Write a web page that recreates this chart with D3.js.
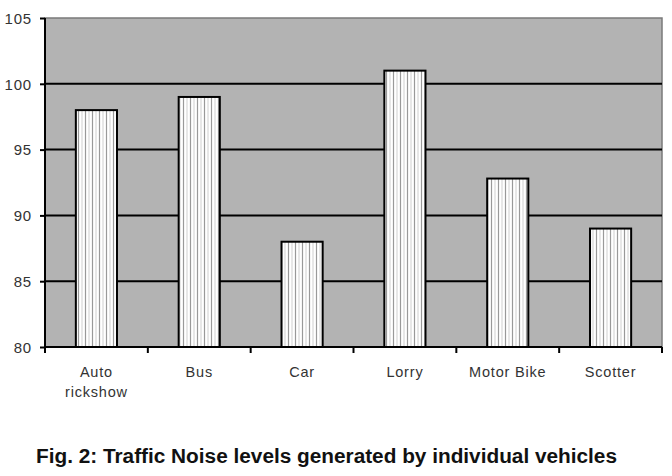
<!DOCTYPE html>
<html><head><meta charset="utf-8">
<script src="https://cdn.jsdelivr.net/npm/d3@7"></script>
<style>body{margin:0;background:#fff}svg{display:block}</style>
</head><body>
<script>
const categories = ["Auto\nrickshow", "Bus", "Car", "Lorry", "Motor Bike", "Scotter"];
const noiseLevels = [98, 99, 88, 101, 92.8, 89];
const yTicks = [80, 85, 90, 95, 100, 105];
const title = "Fig. 2: Traffic Noise levels generated by individual vehicles";

const W = 672, H = 476;
const m = {left: 45, right: 10, top: 18, bottom: 129};
const svg = d3.select("body").append("svg").attr("width", W).attr("height", H);

const defs = svg.append("defs");
const pat = defs.append("pattern").attr("id", "stripes").attr("patternUnits", "userSpaceOnUse")
  .attr("width", 7).attr("height", 10);
pat.append("rect").attr("width", 7).attr("height", 10).attr("fill", "#fff");
pat.append("line").attr("x1", 1.5).attr("x2", 1.5).attr("y1", 0).attr("y2", 10).attr("stroke", "#999").attr("stroke-width", 1.2);
pat.append("line").attr("x1", 5).attr("x2", 5).attr("y1", 0).attr("y2", 10).attr("stroke", "#d0d0d0").attr("stroke-width", 1);

const x = d3.scaleBand().domain(categories).range([m.left, W - m.right]).paddingInner(0).paddingOuter(0);
const y = d3.scaleLinear().domain([80, 105]).range([H - m.bottom, m.top]);

svg.append("rect").attr("x", m.left).attr("y", m.top).attr("width", W - m.right - m.left)
  .attr("height", H - m.bottom - m.top).attr("fill", "#b3b3b3").attr("stroke", "#7a7a7a").attr("stroke-width", 1.5);

svg.append("g").selectAll("line").data(yTicks.filter(t => t > 80 && t < 105)).join("line")
  .attr("x1", m.left).attr("x2", W - m.right).attr("y1", d => y(d)).attr("y2", d => y(d))
  .attr("stroke", "#000").attr("stroke-width", 2);

const bw = x.bandwidth() * 0.4;
svg.append("g").selectAll("rect").data(categories).join("rect")
  .attr("x", d => x(d) + (x.bandwidth() - bw) / 2)
  .attr("y", (d, i) => y(noiseLevels[i]))
  .attr("width", bw)
  .attr("height", (d, i) => y(80) - y(noiseLevels[i]))
  .attr("fill", "url(#stripes)").attr("stroke", "#000").attr("stroke-width", 2);

const yAxis = svg.append("g").attr("transform", `translate(${m.left},0)`)
  .call(d3.axisLeft(y).tickValues(yTicks).tickSize(5).tickPadding(8));
yAxis.select(".domain").attr("stroke-width", 2).attr("d", `M0,${y(80)}V${y(105)}`);
yAxis.selectAll(".tick line").attr("stroke-width", 2);
yAxis.selectAll("text").attr("font-family", "Liberation Sans, Arial, sans-serif").attr("font-size", 15)
  .attr("letter-spacing", 0.8).attr("fill", "#333").attr("dy", "0.35em");

const xAxis = svg.append("g").attr("transform", `translate(0,${y(80)})`)
  .call(d3.axisBottom(x).tickSize(0).tickFormat(""));
xAxis.select(".domain").attr("stroke-width", 2).attr("d", `M${m.left},0H${W - m.right}`);
xAxis.selectAll(".tick line").remove();
const edges = categories.map(c => x(c)).concat([x.range()[1]]);
xAxis.append("g").selectAll("line").data(edges).join("line")
  .attr("x1", d => d).attr("x2", d => d).attr("y1", 0).attr("y2", 6)
  .attr("stroke", "#000").attr("stroke-width", 2);
const lbl = xAxis.append("g").selectAll("text").data(categories).join("text")
  .attr("x", d => x(d) + x.bandwidth() / 2).attr("y", 30)
  .attr("text-anchor", "middle").attr("font-family", "Liberation Sans, Arial, sans-serif")
  .attr("font-size", 14.5).attr("letter-spacing", 0.8).attr("fill", "#333");
lbl.each(function(d) {
  const t = d3.select(this);
  d.split("\n").forEach((s, i) => t.append("tspan").attr("x", x(d) + x.bandwidth() / 2).attr("dy", i ? 20 : 0).text(s));
});

svg.append("text").attr("x", 36).attr("y", 463).attr("font-family", "Liberation Sans Narrow, Liberation Sans, Arial, sans-serif")
  .attr("font-weight", "bold").attr("font-size", 20).attr("fill", "#111")
  .attr("textLength", 581).attr("lengthAdjust", "spacingAndGlyphs").text(title);
</script>
</body></html>
